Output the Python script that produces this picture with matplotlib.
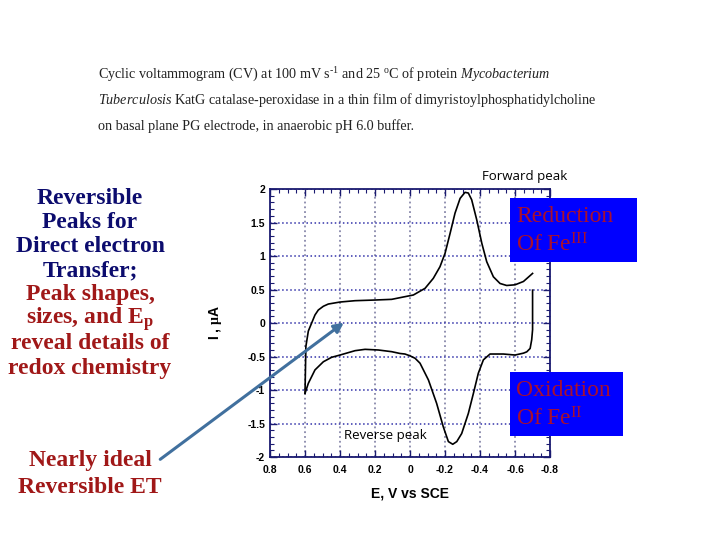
import matplotlib
matplotlib.use("Agg")
import matplotlib.pyplot as plt
from matplotlib.ticker import MultipleLocator

# ---- data ----
E_fwd = [0.600, 0.595, 0.581, 0.562, 0.543, 0.524, 0.495, 0.467, 0.400, 0.314, 0.200, 0.105,
         0.048, -0.019, -0.086, -0.133, -0.171, -0.200, -0.229, -0.257, -0.286, -0.314,
         -0.333, -0.352, -0.381, -0.410, -0.438, -0.476, -0.514, -0.552, -0.600, -0.648, -0.700]
I_fwd = [-1.05, -0.35, -0.12, 0.00, 0.12, 0.194, 0.25, 0.283, 0.313, 0.333, 0.343, 0.353,
         0.383, 0.418, 0.518, 0.667, 0.84, 1.04, 1.34, 1.64, 1.86, 1.95,
         1.94, 1.84, 1.54, 1.19, 0.915, 0.69, 0.59, 0.56, 0.57, 0.62, 0.74]
E_rev = [-0.700, -0.700, -0.695, -0.686, -0.667, -0.648, -0.600, -0.533, -0.457, -0.419,
         -0.390, -0.362, -0.333, -0.295, -0.267, -0.244, -0.219, -0.190, -0.152, -0.105,
         -0.057, -0.029, 0.000, 0.029, 0.057, 0.105, 0.181, 0.257, 0.314, 0.400, 0.448,
         0.495, 0.543, 0.581, 0.600]
I_rev = [0.49, -0.10, -0.25, -0.38, -0.43, -0.45, -0.478, -0.463, -0.463, -0.55,
         -0.75, -1.05, -1.35, -1.65, -1.77, -1.81, -1.77, -1.55, -1.20, -0.85,
         -0.60, -0.527, -0.49, -0.463, -0.455, -0.428, -0.403, -0.393, -0.413, -0.478, -0.512,
         -0.578, -0.70, -0.90, -1.05]
x_ticks = [0.8, 0.6, 0.4, 0.2, 0, -0.2, -0.4, -0.6, -0.8]
x_tick_labels = ["0.8", "0.6", "0.4", "0.2", "0", "-0.2", "-0.4", "-0.6", "-0.8"]
y_ticks = [2, 1.5, 1, 0.5, 0, -0.5, -1, -1.5, -2]
y_tick_labels = ["2", "1.5", "1", "0.5", "0", "-0.5", "-1", "-1.5", "-2"]

title_lines = [
    r"Cyclic voltammogram (CV) at 100 mV s$^{\mathregular{\text{-}1}}$ and 25 $^{\mathregular{o}}$C of protein $\mathit{Mycobacterium}$",
    r"$\mathit{Tuberculosis}$ KatG catalase-peroxidase in a thin film of dimyristoylphosphatidylcholine",
    "on basal plane PG electrode, in anaerobic pH 6.0 buffer.",
]

plt.rcParams['mathtext.fontset'] = 'custom'
plt.rcParams['mathtext.rm'] = 'Liberation Serif'
plt.rcParams['mathtext.it'] = 'Liberation Serif:italic'
plt.rcParams['mathtext.bf'] = 'Liberation Serif:bold'

fig = plt.figure(figsize=(7.2, 5.4), dpi=100)
fig.patch.set_facecolor("white")

ax = fig.add_axes([0.375, 0.1537, 0.389, 0.4963])
frame_col = "#1a1a70"
ax.plot(E_fwd, I_fwd, color="black", lw=1.2)
ax.plot(E_rev, I_rev, color="black", lw=1.2)
ax.set_xlim(0.8, -0.8)
ax.set_ylim(-2, 2)
ax.set_xticks(x_ticks)
ax.set_xticklabels(x_tick_labels)
ax.set_yticks(y_ticks)
ax.set_yticklabels(y_tick_labels)
ax.xaxis.set_minor_locator(MultipleLocator(0.05))
ax.yaxis.set_minor_locator(MultipleLocator(0.1))
ax.tick_params(which="both", direction="in", top=True, right=True, color=frame_col)
ax.tick_params(which="major", length=5, width=1)
ax.tick_params(which="minor", length=3, width=0.8)
for lab in ax.get_xticklabels() + ax.get_yticklabels():
    lab.set_fontsize(7.5)
    lab.set_fontweight("bold")
    lab.set_family("Liberation Sans")
ax.tick_params(axis="x", pad=6)
for s in ax.spines.values():
    s.set_color(frame_col)
    s.set_linewidth(1.3)
ax.xaxis.grid(True, color="#8888aa", linestyle=":", linewidth=1.3)
ax.yaxis.grid(True, color="#3333aa", linestyle=":", linewidth=1.1)
ax.set_xlabel("E, V vs SCE", fontsize=10, fontweight="bold", family="Liberation Sans", labelpad=8)
ax.set_ylabel(r"I , $\mathbf{\mu}$A", fontsize=10, fontweight="bold", family="Liberation Sans", labelpad=17)

# title text
ty = [0.862, 0.815, 0.766]
for line, y in zip(title_lines, ty):
    fig.text(0.136, y, line, fontsize=10.2, family="Liberation Serif", ha="left", va="center",
             color="#222222")

# left text
navy = "#0c0c6e"
red = "#a01818"
left_lines = [
    ("Reversible", navy, 0.632),
    ("Peaks for", navy, 0.588),
    ("Direct electron", navy, 0.543),
    ("Transfer;", navy, 0.499),
    ("Peak shapes,", red, 0.455),
    (r"sizes, and E$_{\mathbf{p}}$", red, 0.410),
    ("reveal details of", red, 0.363),
    ("redox chemistry", red, 0.318),
    ("Nearly ideal", red, 0.147),
    ("Reversible ET", red, 0.097),
]
for txt, c, y in left_lines:
    fig.text(0.125, y, txt, fontsize=17, fontweight="bold", family="Liberation Serif",
             color=c, ha="center", va="center")

# blue boxes
box_red = "#a8102e"
fig.patches.append(plt.Rectangle((510 / 720, 1 - 262 / 540), 127 / 720, 64 / 540,
                                 transform=fig.transFigure, facecolor="#0000ff", edgecolor="none"))
fig.patches.append(plt.Rectangle((510 / 720, 1 - 436 / 540), 113 / 720, 64 / 540,
                                 transform=fig.transFigure, facecolor="#0000ff", edgecolor="none"))
fig.text(516 / 720, 1 - 217 / 540, "Reduction", fontsize=17, family="Liberation Serif",
         color=box_red, ha="left", va="center")
fig.text(516 / 720, 1 - 245 / 540, r"Of Fe$^{\mathregular{III}}$", fontsize=17, family="Liberation Serif",
         color=box_red, ha="left", va="center")
fig.text(516 / 720, 1 - 391 / 540, "Oxidation", fontsize=17, family="Liberation Serif",
         color=box_red, ha="left", va="center")
fig.text(516 / 720, 1 - 419 / 540, r"Of Fe$^{\mathregular{II}}$", fontsize=17, family="Liberation Serif",
         color=box_red, ha="left", va="center")

# peak labels
fig.text(525 / 720, 1 - 177 / 540, "Forward peak", fontsize=9.5, family="Open Sans",
         color="black", ha="center", va="center")
fig.text(385 / 720, 1 - 435 / 540, "Reverse peak", fontsize=9.5, family="Open Sans",
         color="black", ha="center", va="center")

# arrow
fig.add_artist(matplotlib.patches.FancyArrowPatch(
    (158 / 720, 1 - 461 / 540), (346 / 720, 1 - 321 / 540), transform=fig.transFigure,
    arrowstyle="-|>", mutation_scale=14, color="#41709e", lw=2.2))

fig.savefig("out.png", dpi=100)
